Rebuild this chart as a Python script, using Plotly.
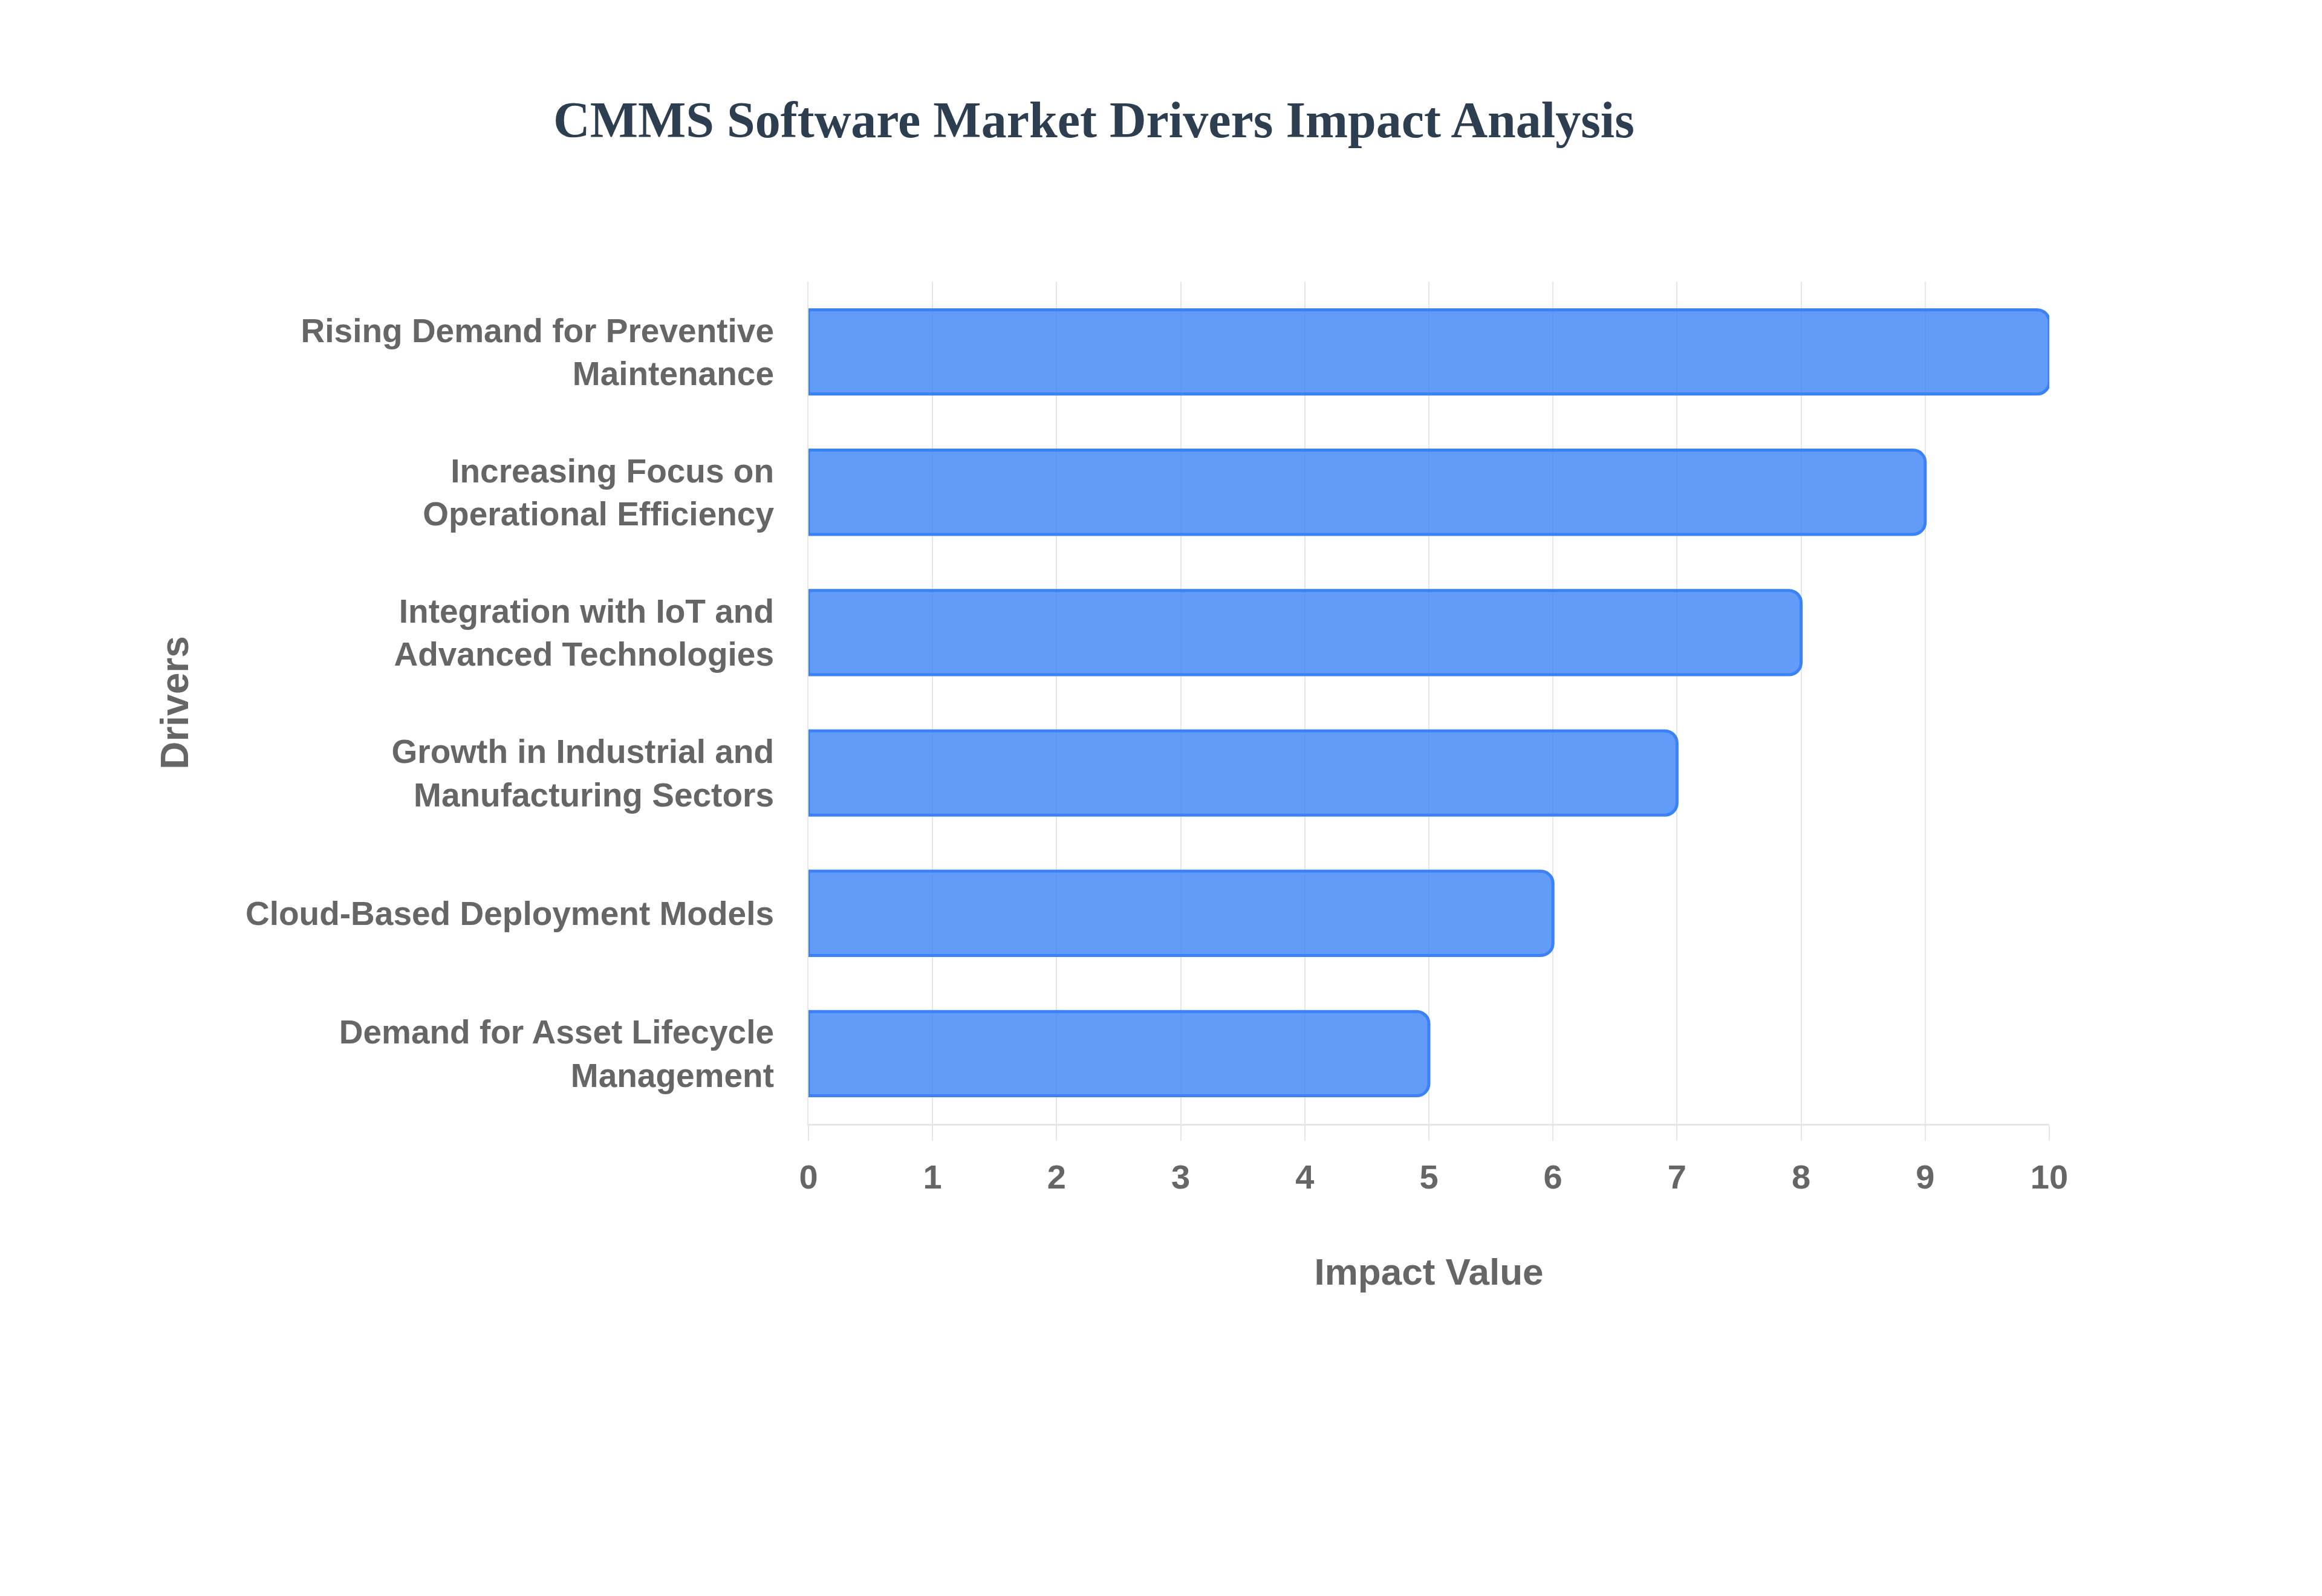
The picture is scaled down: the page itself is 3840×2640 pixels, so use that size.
import plotly.graph_objects as go

# drivers, listed top to bottom as they appear on the chart
drivers = [
    "Rising Demand for Preventive<br>Maintenance",
    "Increasing Focus on<br>Operational Efficiency",
    "Integration with IoT and<br>Advanced Technologies",
    "Growth in Industrial and<br>Manufacturing Sectors",
    "Cloud-Based Deployment Models",
    "Demand for Asset Lifecycle<br>Management",
]
impact = [10, 9, 8, 7, 6, 5]
x_ticks = [0, 1, 2, 3, 4, 5, 6, 7, 8, 9, 10]

grey = "#666666"
grid = "#e6e6e6"

fig = go.Figure()
fig.add_trace(go.Bar(
    x=impact,
    y=drivers,
    orientation="h",
    marker=dict(
        color="rgba(59,130,246,0.8)",
        line=dict(color="#3b82f6", width=5),
        cornerradius=20,
    ),
    hoverinfo="x+y",
))

fig.update_layout(
    width=3840,
    height=2640,
    paper_bgcolor="white",
    plot_bgcolor="white",
    margin=dict(l=1329, r=459, t=458, b=789),
    bargap=0.4,
    showlegend=False,
    title=dict(
        text="CMMS Software Market Drivers Impact Analysis",
        font=dict(family="Liberation Serif, Times New Roman, serif", size=84,
                  color="#2c3e50", weight="bold"),
        x=0.469, xanchor="center", xref="container",
        y=0.928, yanchor="middle", yref="container",
    ),
)

fig.update_xaxes(
    range=[0, 10],
    tickvals=x_ticks,
    showgrid=True,
    gridcolor=grid,
    gridwidth=2,
    zeroline=False,
    showline=True,
    linecolor=grid,
    linewidth=3,
    ticks="outside",
    ticklen=25,
    tickwidth=2,
    tickcolor=grid,
    ticklabelstandoff=12,
    tickfont=dict(family="Liberation Sans, Arial, sans-serif", size=56,
                  color=grey, weight="bold"),
    title=dict(text="Impact Value", standoff=105,
               font=dict(family="Liberation Sans, Arial, sans-serif", size=62,
                         color=grey, weight="bold")),
)

fig.update_yaxes(
    autorange="reversed",
    showgrid=False,
    zeroline=False,
    showline=True,
    linecolor=grid,
    linewidth=2,
    ticks="outside",
    ticklen=44,
    tickcolor="rgba(0,0,0,0)",
    tickfont=dict(family="Liberation Sans, Arial, sans-serif", size=55,
                  color=grey, weight="bold"),
    title=dict(text="Drivers", standoff=74,
               font=dict(family="Liberation Sans, Arial, sans-serif", size=64,
                         color=grey, weight="bold")),
)

fig.write_html("out.html")
